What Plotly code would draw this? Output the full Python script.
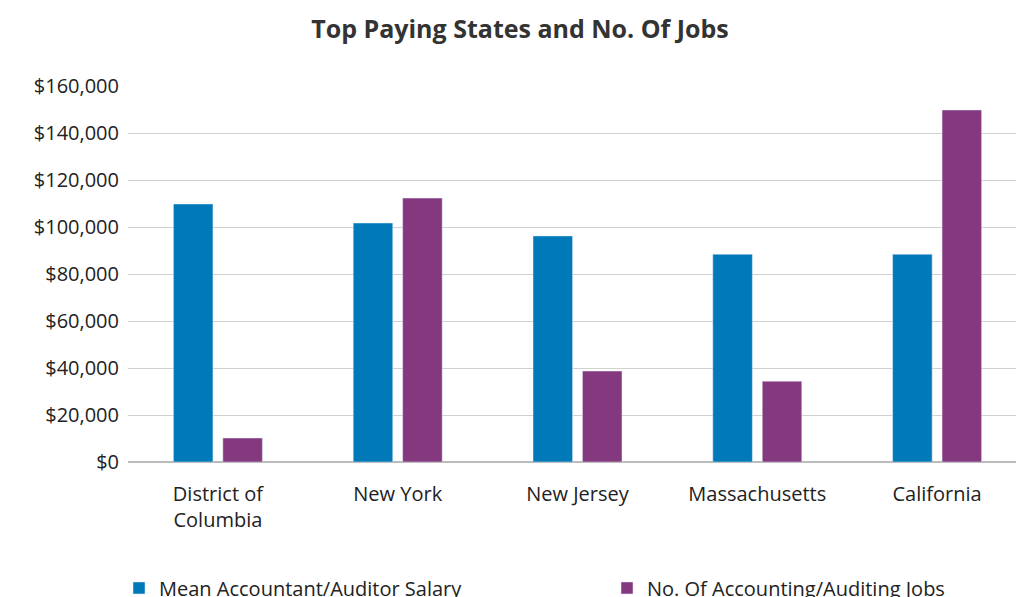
import plotly.graph_objects as go

states = ["District of<br>Columbia", "New York", "New Jersey", "Massachusetts", "California"]
salary = [109800, 101700, 96200, 88400, 88400]
jobs = [10200, 112300, 38700, 34400, 149800]

fig = go.Figure()
fig.add_trace(go.Bar(x=states, y=salary, name="Mean Accountant/Auditor Salary",
                     marker_color="#0079B9"))
fig.add_trace(go.Bar(x=states, y=jobs, name="No. Of Accounting/Auditing Jobs",
                     marker_color="#84397E"))

fig.update_layout(
    width=1024, height=597,
    title=dict(text="<b>Top Paying States and No. Of Jobs</b>", x=0.5, y=0.965, yanchor="middle",
               font=dict(size=25, color="#333333")),
    font=dict(family="Open Sans", size=20, color="#222222"),
    paper_bgcolor="white", plot_bgcolor="white",
    margin=dict(l=120, r=5, t=78, b=143, autoexpand=False),
    barmode="group", bargap=0.45, bargroupgap=0.2,
    yaxis=dict(range=[0, 160000], dtick=20000, tickprefix="$", tickformat=",",
               gridcolor="#d0d0d0", zeroline=True, zerolinecolor="#bbbbbb",
               ticks="", ticklabelstandoff=8),
    xaxis=dict(showline=True, linecolor="#bbbbbb", ticks="", ticklabelstandoff=14),
    legend=dict(orientation="h", x=-0.01, xanchor="left", y=-0.335, yanchor="middle",
                font=dict(size=20), itemwidth=30, entrywidth=443, entrywidthmode="pixels"),
)
fig.write_html("out.html")
